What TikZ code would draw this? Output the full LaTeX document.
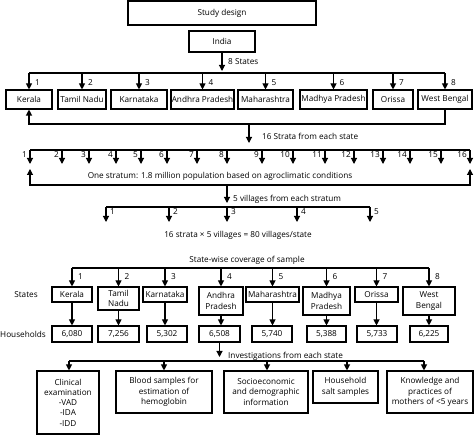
\documentclass[tikz,border=0pt]{standalone}
\usepackage{fontspec}
\setmainfont{Open Sans}
\usetikzlibrary{arrows.meta}
\newcommand\bx[6]{\node[box, minimum width={(#4)-(#2)}, minimum height={(#5)-(#3)}] (#1) at ({((#2)+(#4))/2},{((#3)+(#5))/2}) {#6};}
\begin{document}
\begin{tikzpicture}[x=1pt,y=-1pt,
  font=\fontsize{8.2}{10.3}\selectfont,
  box/.style={draw, line width=1.1pt, inner sep=0pt, align=center},
  ln/.style={line width=1.1pt},
  tip/.tip={Triangle[length=6pt,width=6pt]},
  arr/.style={ln, -tip},
  lbl/.style={inner sep=0pt},
]
\useasboundingbox (0,0) rectangle (474,435);
% top
\bx{sd}{128}{1}{316}{25}{Study design}
\bx{india}{189}{31}{255}{52}{India}
\coordinate (b1) at (222,73);
\coordinate (b1t) at (222,71);
\draw[arr] (india.south) -- (b1t);
\node[lbl, anchor=west] (l8s) at (228,62) {8 States};
% states row 1
\bx{s1}{6}{90}{52}{109}{Kerala}
\bx{s2}{58}{90}{106}{109}{Tamil Nadu}
\bx{s3}{111}{90}{167}{109}{Karnataka}
\bx{s4}{171}{90}{234}{109}{Andhra Pradesh}
\bx{s5}{238}{90}{293}{109}{Maharashtra}
\bx{s6}{300}{90}{367}{109}{Madhya Pradesh}
\bx{s7}{373}{90}{413}{109}{Orissa}
\bx{s8}{418}{90}{472}{109}{West Bengal}
\draw[ln] (s1.north |- b1) -- (s8.north |- b1);
\foreach \i in {1,...,8}{
  \draw[arr] (s\i.north |- b1) -- (s\i.north);
  \node[lbl, anchor=west] (sn\i) at ([shift={(6,-7)}]s\i.north) {\i};
}
\coordinate (r1) at (29,124);
\draw[arr] (s8.south) -- (s8.south |- r1) -- (r1) -- (s1.south);
% strata
\coordinate (st) at (249,124);
\coordinate (stt) at (249,143);
\draw[arr] (st) -- (stt);
\node[lbl, anchor=west] (l16) at (262,136) {16 Strata from each state};
\foreach \x [count=\i] in {30,62,89,116,141,167,197,227,262,293,325,354,383,410,441,470}{
  \coordinate (t\i) at (\x,150);
  \coordinate (tt\i) at (\x,164);
  \draw[arr] (t\i) -- (tt\i);
  \node[lbl, anchor=east] (tn\i) at ({\x-3},155) {\i};
}
\draw[ln] (t1) -- (t16);
\coordinate (u1) at (30,169);
\coordinate (u16) at (470,169);
\coordinate (q1) at (30,185);
\coordinate (q16) at (470,185);
\draw[ln, tip-tip] (u1) -- (q1) -- (q16) -- (u16);
\node[lbl] (stratum) at (220,176) {One stratum: 1.8 million population based on agroclimatic conditions};
% villages
\coordinate (v0) at (227,185);
\coordinate (v0t) at (227,203);
\draw[arr] (v0) -- (v0t);
\node[lbl, anchor=west] (l5v) at (233,199) {5 villages from each stratum};
\foreach \x [count=\i] in {106,169,227,297,370}{
  \coordinate (v\i) at (\x,207);
  \coordinate (vt\i) at (\x,222);
  \draw[arr] (v\i) -- (vt\i);
  \node[lbl, anchor=west] (vn\i) at ({\x+4},212) {\i};
}
\draw[ln] (v1) -- (v5);
\node[lbl] (calc) at (238,235) {16 strata × 5 villages = 80 villages/state};
\node[lbl] (cov) at (247,260) {State-wise coverage of sample};
% states row 2
\coordinate (b2) at (0,268);
\bx{k1}{52}{287}{92}{302}{Kerala}
\bx{k2}{98}{287}{139}{310}{Tamil\\Nadu}
\bx{k3}{143}{287}{187}{302}{Karnataka}
\bx{k4}{199}{287}{243}{315}{Andhra\\Pradesh}
\bx{k5}{246}{287}{299}{302}{Maharashtra}
\bx{k6}{303}{287}{350}{315}{Madhya\\Pradesh}
\bx{k7}{355}{287}{398}{302}{Orissa}
\bx{k8}{403}{287}{455}{315}{West\\Bengal}
\draw[ln] (k1.north |- b2) -- (k8.north |- b2);
\node[lbl] (states) at (26,295) {States};
\node[lbl] (hh) at (23,334) {Households};
\bx{h1}{52}{326}{92}{342}{6,080}
\bx{h2}{98}{326}{139}{342}{7,256}
\bx{h3}{147}{326}{187}{342}{5,302}
\bx{h4}{199}{326}{240}{342}{6,508}
\bx{h5}{252}{326}{292}{342}{5,740}
\bx{h6}{307}{326}{346}{342}{5,388}
\bx{h7}{357}{326}{397}{342}{5,733}
\bx{h8}{410}{326}{448}{342}{6,225}
\foreach \i in {1,...,8}{
  \draw[arr] (k\i.north |- b2) -- (k\i.north);
  \node[lbl, anchor=west] (kn\i) at ([shift={(6,-10)}]k\i.north) {\i};
  \draw[arr] (k\i.south) -- (k\i.south |- h\i.north);
}
% investigations
\coordinate (ivt) at (220,357);
\draw[arr] (h4.south) -- (h4.south |- ivt);
\node[lbl, anchor=west] (linv) at (228,356) {Investigations from each state};
\bx{i1}{37}{371}{99}{434}{Clinical\\examination\\-VAD\\-IDA\\-IDD}
\bx{i2}{116}{371}{212}{413}{Blood samples for\\estimation of\\hemoglobin}
\bx{i3}{224}{371}{308}{413}{Socioeconomic\\and demographic\\information}
\bx{i4}{313}{371}{378}{403}{Household\\salt samples}
\bx{i5}{387}{371}{473}{413}{Knowledge and\\practices of\\mothers of <5 years}
\foreach \x [count=\i] in {69,164,267,347,424}{
  \coordinate (ib\i) at (\x,361);
  \draw[arr] (ib\i) -- (ib\i |- i\i.north);
}
\draw[ln] (ib1) -- (ib5);
\end{tikzpicture}
\end{document}
